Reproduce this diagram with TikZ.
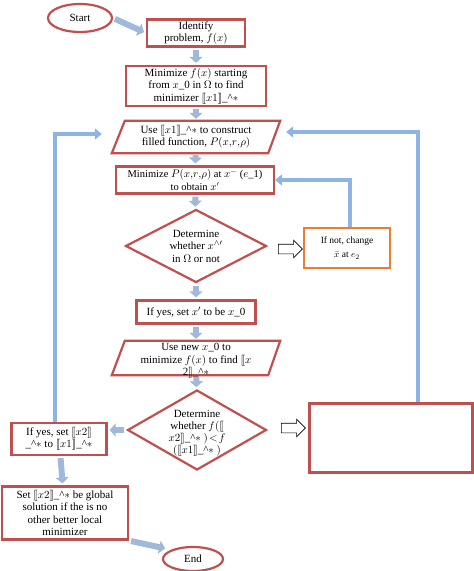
\documentclass[tikz,border=0pt]{standalone}
\usepackage{fontspec}
\setmainfont{Liberation Serif}
\usepackage{amsmath}
\usepackage{stmaryrd}
\usetikzlibrary{
    arrows.meta,
    calc,
    positioning,
    shapes.geometric,
    shapes.arrows
}
\definecolor{boxred}{RGB}{192,80,77}
\definecolor{boxorange}{RGB}{237,125,49}
\definecolor{flowblue}{RGB}{160,185,218}
\definecolor{lineblue}{RGB}{141,180,226}
\newcommand{\xone}{$\llbracket x1\rrbracket$\_\textasciicircum$\ast$}
\newcommand{\xtwo}{$\llbracket x2\rrbracket$\_\textasciicircum$\ast$}
\tikzset{
    every picture/.style = {
        x = 1pt,
        y = -1pt,
        font = \fontsize{11}{12.5}\selectfont
    },
    every node/.style = {
        inner sep = 1pt,
        align = center
    },
    process/.style = {
        rectangle,
        draw = boxred,
        line width = 2.2pt
    },
    terminal/.style = {
        ellipse,
        draw = boxred,
        line width = 2.2pt,
        inner sep = 0pt
    },
    slantline/.style = {
        draw = boxred,
        line width = 2.2pt,
        line join = miter
    },
    decision/.style = {
        diamond,
        draw = boxred,
        line width = 2.2pt,
        inner sep = 0pt
    },
    hollow/.style = {
        single arrow,
        draw = black,
        fill = white,
        semithick,
        inner sep = 4.5pt,
        minimum height = 24pt,
        minimum width = 17pt,
        single arrow head extend = 4pt
    },
    flow/.style = {
        draw = flowblue,
        line width = 6pt,
        -{Triangle[length = 6pt, width = 13pt]},
        shorten <= 2pt,
        shorten >= 2pt
    },
    back/.style = {
        draw = lineblue,
        line width = 3.5pt,
        -{Triangle[length = 7pt, width = 11pt]}
    }
}
% parallelogram round a named node
\newcommand{\slantbox}[1]{%
    \draw[slantline] ($(#1.north west) + (13, 0)$) -- (#1.north east)
        -- ($(#1.south east) + (-12, 0)$) -- (#1.south west) -- cycle;
}

\begin{document}
\begin{tikzpicture}
    \useasboundingbox (0, 0) rectangle (474, 571);

    \node[terminal, minimum width = 64, minimum height = 28] (start) at (80, 18) {Start};
    \node[process, minimum width = 98, minimum height = 27] (ident) at (196, 33) {Identify\\problem, $f(x)$};
    \node[process, minimum width = 140, minimum height = 40] (minf) at (196, 86) {Minimize $f(x)$ starting\\from $x$\_0 in $\Omega$ to find\\minimizer \xone};

    \node[minimum width = 168, minimum height = 32] (use1) at (196, 137) {Use \xone{} to construct\\filled function, $P(x{,}r{,}\rho)$};
    \slantbox{use1}

    \node[process, minimum width = 158, minimum height = 27, font = \fontsize{10.5}{13.5}\selectfont] (minp) at (195, 180) {Minimize $P(x{,}r{,}\rho)$ at $x^{-}$ ($e$\_1)\\to obtain $x'$};

    \node[decision, minimum width = 141, minimum height = 73] (inomega) at (196, 246) {};
    \node at (inomega) {Determine\\whether $x^{\wedge\prime}$\\in $\Omega$ or not};

    \node[hollow] (h1) at (288, 249) {};
    \node[process, draw = boxorange, minimum width = 86, minimum height = 40, font = \fontsize{9.5}{14}\selectfont] (change) at (347, 248) {If not, change\\$\bar{x}$ at $e_2$};

    \node[process, minimum width = 119, minimum height = 23] (sety) at (196, 312) {If yes, set $x'$ to be $x$\_0};

    \node[minimum width = 168, minimum height = 34, inner sep = 0pt] (use2) at (196, 358) {};
    \slantbox{use2}
    \node at ($(use2) + (0, 3)$) {Use new $x$\_0 to\\minimize $f(x)$ to find $\llbracket x$\\2$\rrbracket$\_\textasciicircum$\ast$};

    \node[decision, minimum width = 139, minimum height = 80] (fless) at (197, 430) {};
    \node[font = \fontsize{11}{12}\selectfont] at ($(fless) + (0, 3)$) {Determine\\whether $f(\llbracket$\\$x2\rrbracket$\_\textasciicircum$\ast$ $)\!<\!f$\\$(\llbracket x1\rrbracket$\_\textasciicircum$\ast$ $)$};

    \node[hollow] (h2) at (291, 428) {};
    \node[process, minimum width = 163, minimum height = 69] (res) at (391, 438) {};

    \node[process, minimum width = 95, minimum height = 32] (setx) at (59, 439) {If yes, set $\llbracket x2\rrbracket$\\\_\textasciicircum$\ast$ to \xone};
    \node[process, minimum width = 126, minimum height = 53] (glob) at (65, 513) {Set \xtwo{} be global\\solution if the is no\\other better local\\minimizer};
    \node[terminal, minimum width = 60, minimum height = 24] (end) at (193, 559) {End};

    % main flow
    \draw[flow] (start.east) -- (ident.west);
    \draw[flow] (ident) -- (minf);
    \draw[flow] (minf) -- (use1);
    \draw[flow] (use1) -- (minp);
    \draw[flow] (minp) -- (inomega);
    \draw[flow] (inomega) -- (sety);
    \draw[flow] (sety) -- (use2);
    \draw[flow] (use2) -- (fless);
    \draw[flow] (fless.west) -- (fless.west -| setx.east);
    \draw[flow] (setx) -- (glob);
    \draw[flow, shorten >= 6pt] (glob.south east) -- (end.north west);

    % loops back
    \draw[back] ([xshift = 3]change.north) |- (minp.east);
    \draw[back] ([xshift = 27]res.north) |- ($(use1.east) + (6, -5)$);
    \draw[back] ([xshift = -4]setx.north) |- ($(use1.west) + (-10, -3)$);
\end{tikzpicture}
\end{document}
